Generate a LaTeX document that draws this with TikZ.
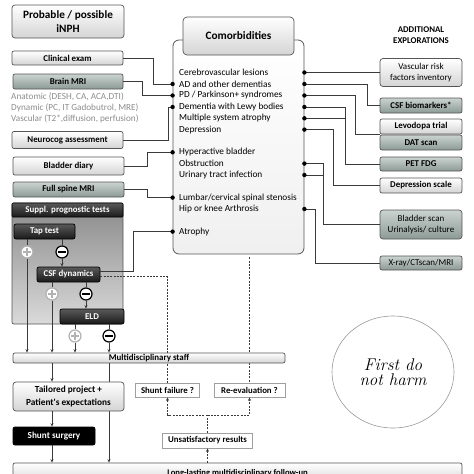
\documentclass[tikz,border=0pt]{standalone}
\usepackage{fontspec}
\newfontfamily\carl{Carlito}
\usetikzlibrary{shapes.geometric,arrows.meta}
\definecolor{ln}{HTML}{3A3A3A}
\definecolor{bord}{HTML}{555555}
\definecolor{lgray}{HTML}{D4D4D4}
\definecolor{gA}{HTML}{CBD3D0}
\definecolor{gB}{HTML}{8C9A96}
\definecolor{pA}{HTML}{8A8A8A}
\definecolor{pB}{HTML}{DADADA}
\definecolor{notec}{HTML}{8C8C8C}
\begin{document}
\begin{tikzpicture}[x=1pt,y=-1pt,
  box/.style={draw=bord, line width=0.7pt, rounded corners=2pt, inner sep=0pt, align=center,
    font=\carl\bfseries\fontsize{8.9}{10}\selectfont, text=black},
  lightbox/.style={box, top color=white, bottom color=lgray},
  graybox/.style={box, top color=gA, bottom color=gB},
  darkbox/.style={box, draw=black, top color=black!65, bottom color=black!90, text=white},
  plainbox/.style={draw=gray!75, line width=0.6pt, fill=white, inner sep=0pt,
    font=\carl\bfseries\fontsize{8.8}{10}\selectfont},
  itm/.style={anchor=west, inner sep=0pt, font=\carl\fontsize{9.3}{10.5}\selectfont},
  note/.style={anchor=west, inner sep=0pt, text=notec, font=\carl\fontsize{9.2}{10.5}\selectfont},
  conn/.style={draw=ln, line width=0.9pt},
  arr/.style={conn, -{Stealth[length=3.5pt,width=3pt]}},
  dsh/.style={draw=ln, line width=0.9pt, dash pattern=on 2pt off 1.3pt},
  dsharr/.style={dsh, -{Stealth[length=3.5pt,width=3pt]}},
  pm/.style={circle, minimum size=12pt, inner sep=0pt, fill=white, line width=1.2pt},
  pluscirc/.style={pm, draw=gray!60, path picture={
    \draw[gray!60, line width=1.3pt] ([xshift=-3.6pt]path picture bounding box.center) -- ([xshift=3.6pt]path picture bounding box.center)
      ([yshift=-3.6pt]path picture bounding box.center) -- ([yshift=3.6pt]path picture bounding box.center);}},
  minuscirc/.style={pm, draw=black, path picture={
    \draw[black, line width=1.5pt] ([xshift=-3.6pt]path picture bounding box.center) -- ([xshift=3.6pt]path picture bounding box.center);}}
]
\useasboundingbox (0,0) rectangle (474,474);
\clip (0,0) rectangle (474,474);

% ---------- left column ----------
\node[lightbox, rounded corners=3pt, font=\carl\bfseries\fontsize{11.2}{14}\selectfont,
  minimum width=112pt, minimum height=33pt] (inph) at (68,21.5) {Probable / possible\\iNPH};
\node[lightbox, minimum width=111pt, minimum height=14pt] (clin) at (67.5,58) {Clinical exam};
\node[graybox, minimum width=110pt, minimum height=15pt] (bmri) at (68,81.5) {Brain MRI};
\node[note] (anat) at (11,97) {Anatomic (DESH, CA, ACA,DTI)};
\node[note] (dyn) at (11,108) {Dynamic (PC, IT Gadobutrol, MRE)};
\node[note] (vsc) at (11,119) {Vascular (T2*,diffusion, perfusion)};
\node[lightbox, minimum width=111pt, minimum height=17pt] (neuro) at (67.5,140) {Neurocog assessment};
\node[lightbox, minimum width=111pt, minimum height=18pt] (bdia) at (68.5,166) {Bladder diary};
\node[graybox, minimum width=111pt, minimum height=15pt] (fsm) at (68.5,189.5) {Full spine MRI};

% prognostic panel
\node[draw=bord, line width=0.7pt, rounded corners=2pt, top color=pA, bottom color=pB,
  minimum width=111pt, minimum height=121pt, inner sep=0pt] (panel) at (67.5,263.5) {};
\node[darkbox, rounded corners=1pt, minimum width=111pt, minimum height=14pt] (phead) at (67.5,210) {Suppl. prognostic tests};
\node[darkbox, minimum width=61pt, minimum height=15pt] (tap) at (44.5,231.5) {Tap test};
\node[darkbox, minimum width=63pt, minimum height=15pt] (csfd) at (68.5,274.5) {CSF dynamics};
\node[darkbox, minimum width=64pt, minimum height=15pt] (eld) at (92,316.5) {ELD};
\node[pluscirc] (tapp) at (27,252) {};
\node[minuscirc] (tapm) at (62,252) {};
\node[pluscirc] (csfp) at (52,294) {};
\node[minuscirc] (csfm) at (86,294) {};
\node[pluscirc] (eldp) at (75,336) {};
\node[minuscirc] (eldm) at (109,336) {};

\draw[conn] (tap.south -| tapp) -- (tapp);
\draw[conn] (tap.south -| tapm) -- (tapm);
\draw[arr] (tapm) -- (tapm |- csfd.north);
\draw[conn] (csfd.south -| csfp) -- (csfp);
\draw[conn] (csfd.south -| csfm) -- (csfm);
\draw[arr] (csfm) -- (csfm |- eld.north);
\draw[conn] (eld.south -| eldp) -- (eldp);
\draw[conn] (eld.south -| eldm) -- (eldm);

% ---------- comorbidities ----------
\node[draw=bord, line width=0.8pt, rounded corners=6pt, top color=white, bottom color=black!6,
  minimum width=131pt, minimum height=214pt, inner sep=0pt] (comorb) at (238.5,147) {};
\node[lightbox, rounded corners=4pt, font=\carl\bfseries\fontsize{11.3}{13}\selectfont,
  minimum width=111pt, minimum height=38pt] (chead) at (238.5,36) {Comorbidities};
\node[itm] (c1) at (179,72.5) {Cerebrovascular lesions};
\node[itm] (c2) at (179,84) {AD and other dementias};
\node[itm] (c3) at (179,95.5) {PD / Parkinson+ syndromes};
\node[itm] (c4) at (179,107) {Dementia with Lewy bodies};
\node[itm] (c5) at (179,118.3) {Multiple system atrophy};
\node[itm] (c6) at (179,129.6) {Depression};
\node[itm] (c7) at (179,152.3) {Hyperactive bladder};
\node[itm] (c8) at (179,163.6) {Obstruction};
\node[itm] (c9) at (179,175) {Urinary tract infection};
\node[itm] (c10) at (179,197.6) {Lumbar/cervical spinal stenosis};
\node[itm] (c11) at (179,209) {Hip or knee Arthrosis};
\node[itm] (c12) at (179,231.6) {Atrophy};

% ---------- additional explorations ----------
\node[inner sep=0pt, align=center, font=\carl\bfseries\fontsize{8.8}{11.5}\selectfont] (addl) at (421,35) {ADDITIONAL\\EXPLORATIONS};
\node[lightbox, rounded corners=3pt, font=\carl\fontsize{9}{11.5}\selectfont,
  minimum width=82pt, minimum height=28pt] (vasc) at (421,72.5) {Vascular risk\\factors inventory};
\node[graybox, minimum width=82pt, minimum height=15pt] (csfb) at (421,105.5) {CSF biomarkers*};
\node[lightbox, minimum width=82pt, minimum height=15pt] (levo) at (421,126.5) {Levodopa trial};
\node[graybox, minimum width=82pt, minimum height=15pt] (dat) at (421,142.5) {DAT scan};
\node[graybox, minimum width=82pt, minimum height=14pt] (pet) at (421,164) {PET FDG};
\node[lightbox, minimum width=82pt, minimum height=15pt] (deps) at (421,185.5) {Depression scale};
\node[graybox, rounded corners=3pt, font=\carl\fontsize{9}{11.5}\selectfont,
  minimum width=82pt, minimum height=29pt] (blad) at (421,224.5) {Bladder scan\\Urinalysis/ culture};
\node[graybox, font=\carl\fontsize{9}{10}\selectfont,
  minimum width=82pt, minimum height=14pt] (xray) at (421,263) {X-ray/CTscan/MRI};

% left connectors into comorbidities
\draw[conn] (clin.east) -- ++(30,0) |- (comorb.west |- c2);
\draw[conn] (bmri.east) -- ++(19,0) |- (comorb.west |- c3);
\draw[conn] (neuro.east) -- ++(45,0) |- (comorb.west |- c4);
\draw[conn] (bdia.east) -- ++(23,0) |- (comorb.west |- c7);
\draw[conn] (fsm.east) -- ++(23,0) |- (comorb.west |- c10);
\draw[conn] ([yshift=3pt]csfd.east) -- ++(33,0) |- (comorb.west |- c12);
\foreach \c in {c2,c3,c4,c7,c10,c12} \fill[black] (comorb.west |- \c) circle (2.2pt);

% right connectors
\draw[conn] (comorb.east |- c1) -- (vasc.west |- c1);
\draw[conn] (comorb.east |- c2) -- ++(63,0) |- (csfb.west);
\draw[conn] (comorb.east |- c3) -- ++(51,0) |- (levo.south west);
\draw[conn] (comorb.east |- c4) -- ++(41,0) |- (pet.west);
\draw[conn] (comorb.east |- c5) -- ++(41,0) |- (pet.west);
\draw[conn] (comorb.east |- c6) -- ++(29,0) |- (deps.west);
\draw[conn] (comorb.east |- c8) -- ++(19,0) |- (blad.west);
\draw[conn] (comorb.east |- c9) -- ++(19,0) |- (blad.west);
\draw[conn] (comorb.east |- c11) -- ++(11,0) |- (xray.west);
\foreach \c in {c1,c2,c3,c4,c5,c6,c8,c9,c11} \fill[black] (comorb.east |- \c) circle (2.2pt);

% ---------- lower part ----------
\node[plainbox, minimum width=64pt, minimum height=14pt] (sfail) at (167.5,390) {Shunt failure ?};
\node[plainbox, minimum width=71pt, minimum height=14pt] (reval) at (249.5,390) {Re-evaluation ?};
\node[plainbox, minimum width=90pt, minimum height=15pt] (unsat) at (207.5,440.5) {Unsatisfactory results};
\coordinate (jn) at (207.5,415);

\draw[dsh] ([yshift=-2pt]csfd.east) -| (sfail.north);
\draw[dsh] ([yshift=-3pt]comorb.south -| reval.north) -- (reval.north);

\node[lightbox, minimum width=272pt, minimum height=10pt] (staff) at (149,358) {Multidisciplinary staff};
\node[lightbox, rounded corners=2pt, font=\carl\bfseries\fontsize{8.6}{10}\selectfont,
  minimum width=449pt, minimum height=21pt] (fu) at (237.5,473.5) {Long-lasting multidisciplinary follow-up};

\draw[arr] (tapp) -- (tapp |- staff.north);
\draw[arr] (csfp) -- (csfp |- staff.north);
\draw[arr] (eldp) -- (eldp |- staff.north);
\draw[arr] (eldm) -- (eldm |- staff.north);
\draw[arr] (staff.south -| eldm) -- (fu.north -| eldm);

\node[lightbox, rounded corners=3pt, font=\carl\bfseries\fontsize{9.3}{13}\selectfont,
  minimum width=111pt, minimum height=29pt] (tail) at (68.5,396.5) {Tailored project +\\Patient's expectations};
\node[box, draw=black, fill=black, text=white, font=\carl\bfseries\fontsize{9.2}{10}\selectfont,
  minimum width=82pt, minimum height=18pt] (shunt) at (54,436) {Shunt surgery};

\draw[arr] (staff.south -| csfp) -- (tail.north -| csfp);
\draw[arr] (tail.south -| csfp) -- (shunt.north -| csfp);
\draw[arr] (shunt.south -| csfp) -- (fu.north -| csfp);

\draw[dsh] (unsat.north) -- (jn);
\draw[dsharr] (jn) -| (sfail.south);
\draw[dsharr] (jn) -| (reval.south);
\draw[dsharr] (fu.north -| unsat.south) -- (unsat.south);

% motto
\node[ellipse, draw=gray!80, line width=0.6pt, minimum width=122pt, minimum height=112pt,
  inner sep=0pt, align=center, font=\itshape\fontsize{17}{15.5}\selectfont] (harm) at (393,372) {First do\\not harm};
\end{tikzpicture}
\end{document}
